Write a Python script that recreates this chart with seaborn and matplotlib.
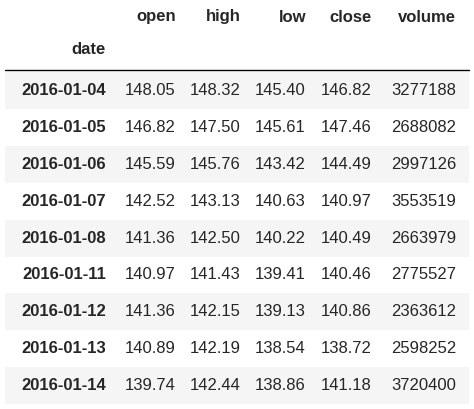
import matplotlib
matplotlib.use("Agg")
import matplotlib.pyplot as plt
import seaborn as sns

sns.set_style("white")
plt.rcParams['font.family'] = ['Liberation Sans', 'DejaVu Sans']

columns = ['open', 'high', 'low', 'close', 'volume']
dates = ['2016-01-04', '2016-01-05', '2016-01-06', '2016-01-07', '2016-01-08',
         '2016-01-11', '2016-01-12', '2016-01-13', '2016-01-14']
open_ = [148.05, 146.82, 145.59, 142.52, 141.36, 140.97, 141.36, 140.89, 139.74]
high = [148.32, 147.50, 145.76, 143.13, 142.50, 141.43, 142.15, 142.19, 142.44]
low = [145.40, 145.61, 143.42, 140.63, 140.22, 139.41, 139.13, 138.54, 138.86]
close = [146.82, 147.46, 144.49, 140.97, 140.49, 140.46, 140.86, 138.72, 141.18]
volume = [3277188, 2688082, 2997126, 3553519, 2663979, 2775527, 2363612, 2598252, 3720400]

W, H = 474, 409
fig = plt.figure(figsize=(W / 100, H / 100), dpi=100)
ax = fig.add_axes([0, 0, 1, 1])
ax.set_xlim(0, W)
ax.set_ylim(H, 0)
ax.axis('off')

col_x = [176, 241, 306, 372, 456]
idx_x = 106
fs = 12
row0, step = 72, 36.9

for c, x in zip(columns, col_x):
    ax.text(x, 17, c, ha='right', va='center', fontsize=fs, fontweight='bold')
ax.text(idx_x, 50, 'date', ha='right', va='center', fontsize=fs, fontweight='bold')
ax.plot([5, 469], [70, 70], color='black', lw=1)

for i, d in enumerate(dates):
    top = row0 + step * i
    if i % 2 == 0:
        ax.add_patch(plt.Rectangle((5, top), 464, step, color='#f5f5f5', lw=0))
    y = top + step / 2
    ax.text(idx_x, y, d, ha='right', va='center', fontsize=fs, fontweight='bold')
    vals = [f'{open_[i]:.2f}', f'{high[i]:.2f}', f'{low[i]:.2f}', f'{close[i]:.2f}', str(volume[i])]
    for v, x in zip(vals, col_x):
        ax.text(x, y, v, ha='right', va='center', fontsize=fs)

fig.savefig('out.png', dpi=100)
